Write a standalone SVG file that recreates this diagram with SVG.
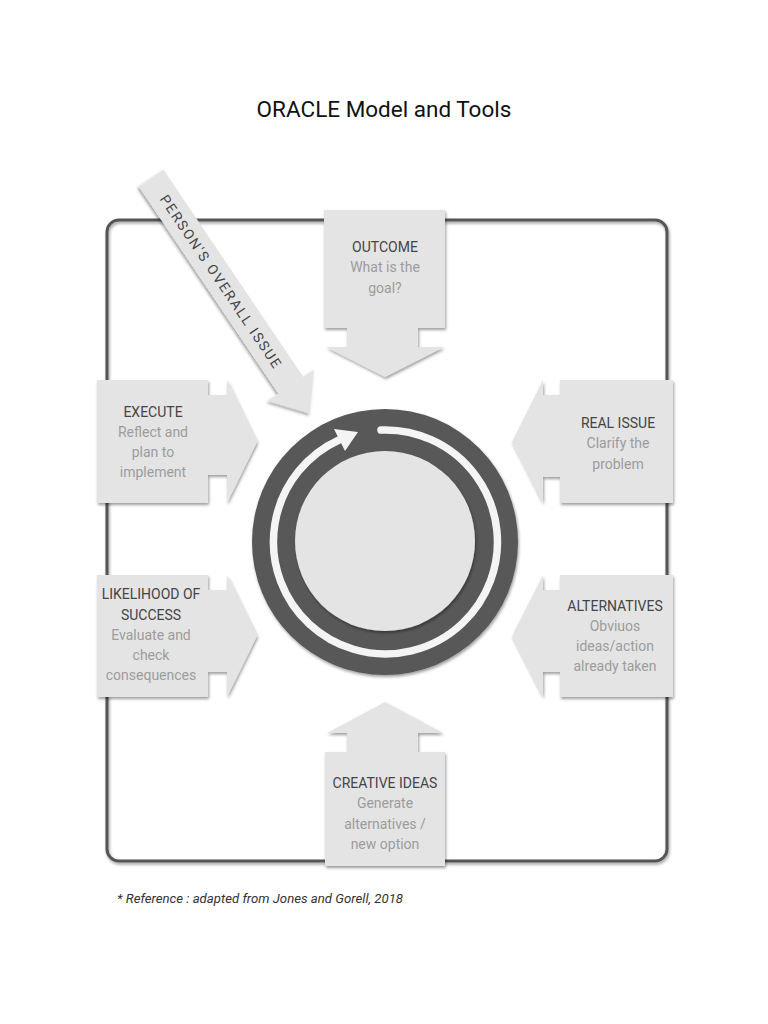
<svg xmlns="http://www.w3.org/2000/svg" width="768" height="1024" viewBox="0 0 768 1024">
<defs>
<filter id="sh" x="-20%" y="-20%" width="140%" height="140%">
<feDropShadow dx="1" dy="2" stdDeviation="1.5" flood-color="#000" flood-opacity="0.38"/>
</filter>
<style>
.box{fill:#e4e4e4;filter:url(#sh);}
.hd{font-family:Roboto,"Liberation Sans",sans-serif;font-size:14px;fill:#444;text-anchor:middle;}
.ds{font-family:Roboto,"Liberation Sans",sans-serif;font-size:14px;fill:#9c9c9c;text-anchor:middle;}
</style>
</defs>
<rect width="768" height="1024" fill="#fff"/>
<text x="384" y="117" font-family="Roboto,'Liberation Sans',sans-serif" font-size="22.5" fill="#111" text-anchor="middle">ORACLE Model and Tools</text>
<rect id="frame" x="107" y="220" width="560" height="641" rx="12" fill="none" stroke="#555" stroke-width="3" filter="url(#sh)"/>

<g id="center">
<circle cx="385" cy="542" r="133" fill="#585858" filter="url(#sh)"/>
<circle cx="385" cy="541" r="90" fill="#e4e4e4" filter="url(#sh)"/>
</g>
<g id="connectors">
<path d="M381,430 A112,112 0 1 1 339,440" fill="none" stroke="#f4f4f4" stroke-width="7.5" stroke-linecap="round"/>
<polygon points="358,432 345,451 334,429" fill="#f4f4f4"/>
</g>

<g id="overall-issue" transform="translate(151,178) rotate(56)">
<polygon class="box" points="0,-15 250,-15 250,-28 284,0 250,28 250,15 0,15"/>
<text x="22" y="5" font-family="Roboto,'Liberation Sans',sans-serif" font-size="14" fill="#444" textLength="205" lengthAdjust="spacing">PERSON'S OVERALL ISSUE</text>
</g>

<g id="outcome">
<polygon class="box" points="324,210 445,210 445,328 418,328 418,347 444,347 385,377 326,347 347,347 347,328 324,328"/>
<text class="hd" x="385" y="252">OUTCOME</text>
<text class="ds" x="385" y="272">What is the</text>
<text class="ds" x="385" y="293">goal?</text>
</g>

<g id="execute">
<polygon class="box" points="97,380 208,380 208,395 227,395 227,380 257,442 227,503 227,475 208,475 208,503 97,503"/>
<text class="hd" x="153" y="417">EXECUTE</text>
<text class="ds" x="153" y="437">Reflect and</text>
<text class="ds" x="153" y="457">plan to</text>
<text class="ds" x="153" y="477">implement</text>
</g>

<g id="likelihood">
<polygon class="box" points="97,575 208,575 208,590 227,590 227,575 257,636 227,697 227,672 208,672 208,697 97,697"/>
<text class="hd" x="151" y="599">LIKELIHOOD OF</text>
<text class="hd" x="151" y="620">SUCCESS</text>
<text class="ds" x="151" y="640">Evaluate and</text>
<text class="ds" x="151" y="660">check</text>
<text class="ds" x="151" y="680">consequences</text>
</g>

<g id="real-issue">
<polygon class="box" points="673,380 560,380 560,395 543,395 543,380 512,442 543,503 543,477 560,477 560,503 673,503"/>
<text class="hd" x="618" y="428">REAL ISSUE</text>
<text class="ds" x="618" y="448">Clarify the</text>
<text class="ds" x="618" y="469">problem</text>
</g>

<g id="alternatives">
<polygon class="box" points="673,575 560,575 560,590 543,590 543,575 512,636 543,697 543,672 560,672 560,697 673,697"/>
<text class="hd" x="615" y="611">ALTERNATIVES</text>
<text class="ds" x="615" y="631">Obviuos</text>
<text class="ds" x="615" y="651">ideas/action</text>
<text class="ds" x="615" y="671">already taken</text>
</g>

<g id="creative-ideas">
<polygon class="box" points="325,866 445,866 445,752 418,752 418,733 443,733 385,702 327,733 347,733 347,752 325,752"/>
<text class="hd" x="385" y="788">CREATIVE IDEAS</text>
<text class="ds" x="385" y="808">Generate</text>
<text class="ds" x="385" y="829">alternatives /</text>
<text class="ds" x="385" y="849">new option</text>
</g>

<text x="117" y="903" font-family="Roboto,'Liberation Sans',sans-serif" font-size="13.2" font-style="italic" fill="#333">* Reference : adapted from Jones and Gorell, 2018</text>
</svg>
